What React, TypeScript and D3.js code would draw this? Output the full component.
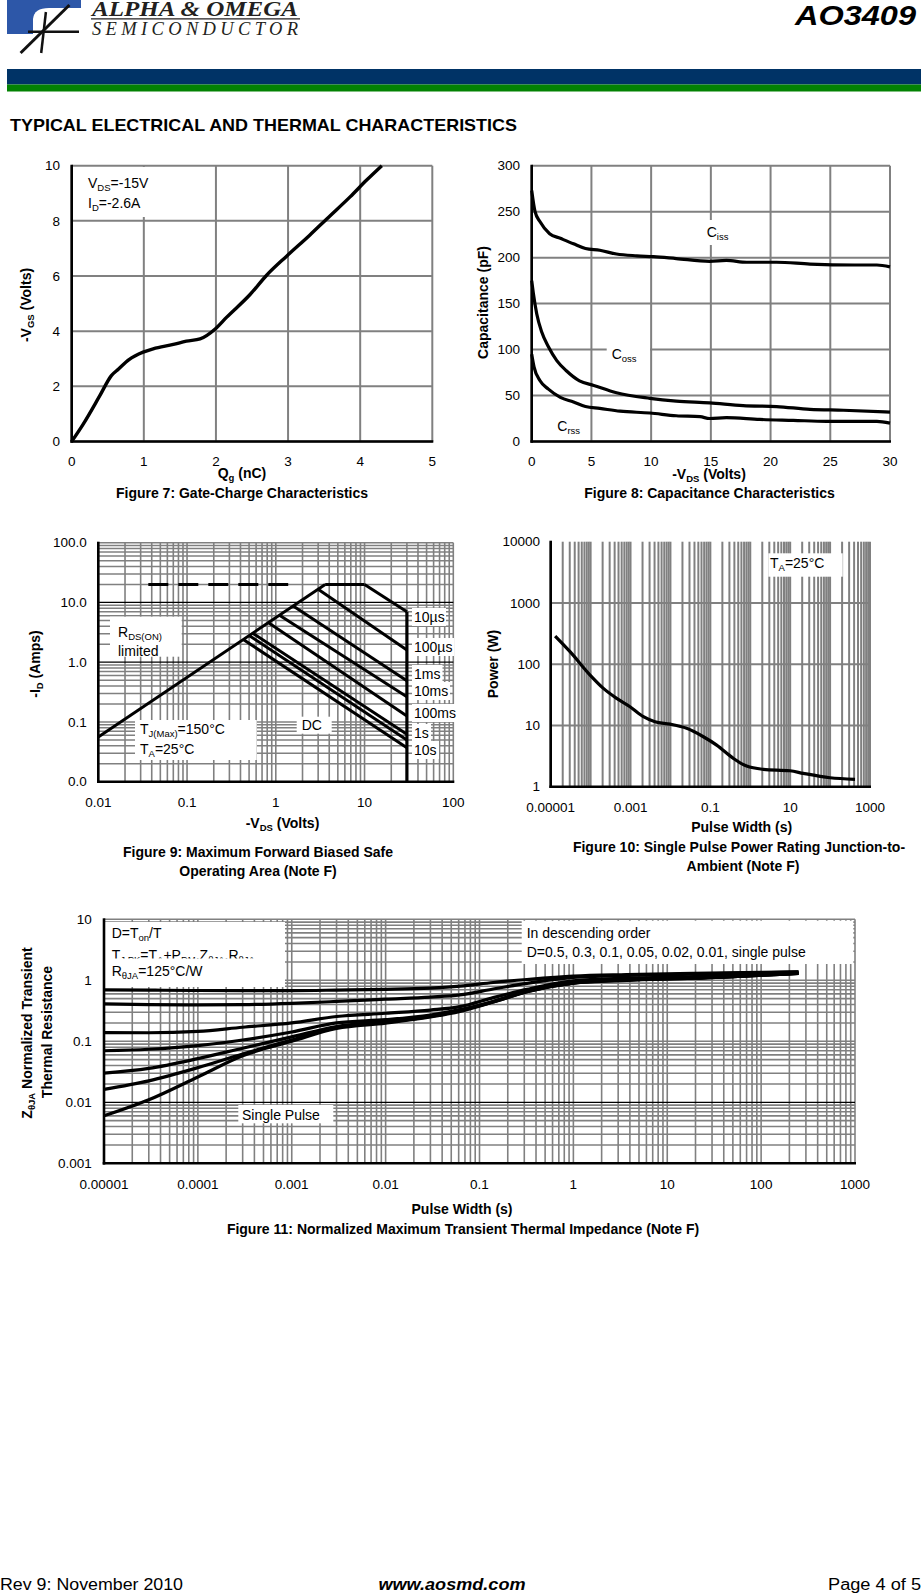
import React from 'react';
import * as d3 from 'd3';

const FONT = "'Liberation Sans', Arial, Helvetica, sans-serif";
const SERIF = "'Liberation Serif', 'Times New Roman', serif";
const GRID = '#808080';
const INK = '#000';

// ---------- Figure 7: gate charge ----------
const qgCharge = [0, 0.16, 0.39, 0.55, 0.65, 0.79, 0.99, 1.13, 1.41, 1.59, 1.78, 1.99, 2.15, 2.47, 2.7, 2.98, 3.3, 3.54, 3.86, 4.09, 4.3];
const qgVgs = [0, 0.63, 1.66, 2.39, 2.63, 2.96, 3.24, 3.36, 3.52, 3.64, 3.72, 4.08, 4.51, 5.32, 6.02, 6.72, 7.48, 8.08, 8.87, 9.48, 10.0];
const fig7XTicks = [0, 1, 2, 3, 4, 5];
const fig7YTicks = [0, 2, 4, 6, 8, 10];

// ---------- Figure 8: capacitance ----------
const cissV = [0, 0.28, 0.7, 1.5, 2.4, 3.5, 4.5, 5.7, 7.1, 8.8, 10.2, 12.1, 14.9, 16.3, 18, 20.5, 23.3, 27, 28.9, 30];
const cissC = [273, 250, 239, 226, 221, 215, 210, 208, 204, 202, 201, 199, 196, 197, 195, 195, 193, 192, 192, 190];
const cossV = [0, 0.14, 0.42, 0.84, 1.4, 2.1, 2.9, 4.0, 5.2, 7.1, 9.9, 12.1, 14.9, 17.7, 20.5, 23.3, 26.1, 30];
const cossC = [175, 161, 139, 119, 103, 88, 77, 66, 61, 53, 47, 44, 42, 39, 38, 35, 34, 32];
const crssV = [0, 0.2, 0.7, 1.4, 2.4, 3.5, 4.5, 5.7, 7.4, 9.9, 12.1, 14.1, 14.9, 16.3, 19.1, 21.9, 24.7, 28.9, 30];
const crssC = [95, 81, 66, 57, 48, 43, 38, 36, 33, 31, 28, 27, 25, 26, 24, 23, 22, 22, 20];
const fig8XTicks = [0, 5, 10, 15, 20, 25, 30];
const fig8YTicks = [0, 50, 100, 150, 200, 250, 300];

// ---------- Figure 9: safe operating area ----------
const soaRdsV = [0.01, 3.6];
const soaRdsI = [0.056, 20];
const soaFlatV = [3.6, 10];
const soaFlatI = [20, 20];
const soaDashV = [0.0366, 1.38];
const soaDashI = [20, 20];
const soaWallV = [30, 30];
const soaWallI = [7.0, 0.01];
const soaLabels = ['10µs', '100µs', '1ms', '10ms', '100ms', '1s', '10s'];
const soaStartV = [10, 3.0, 1.57, 1.1, 0.82, 0.55, 0.5];
const soaStartI = [20, 16.7, 8.7, 6.1, 4.6, 3.05, 2.8];
const soaEndV = [30, 30, 30, 30, 30, 30, 30];
const soaEndI = [7.0, 1.6, 0.49, 0.265, 0.126, 0.062, 0.05];
const soaDcV = [0.43, 30];
const soaDcI = [2.4, 0.037];
const fig9XTicks = [0.01, 0.1, 1, 10, 100];
const fig9XLabels = ['0.01', '0.1', '1', '10', '100'];
const fig9YTicks = [100, 10, 1, 0.1, 0.01];
const fig9YLabels = ['100.0', '10.0', '1.0', '0.1', '0.0'];

// ---------- Figure 10: single pulse power ----------
const spPulse = [1.29e-5, 3.05e-5, 9.7e-5, 2.09e-4, 4.5e-4, 9.7e-4, 2.1e-3, 4.1e-3, 9.8e-3, 0.0255, 0.0668, 0.144, 0.377, 0.81, 2.13, 9.9, 21.4, 99.6, 421];
const spPower = [288, 160, 66.5, 40.3, 27.7, 20.2, 13.9, 11.5, 10.5, 8.96, 6.54, 4.78, 2.9, 2.17, 1.92, 1.82, 1.65, 1.4, 1.32];
const fig10XTicks = [1e-5, 1e-3, 1e-1, 10, 1000];
const fig10XLabels = ['0.00001', '0.001', '0.1', '10', '1000'];
const fig10YTicks = [1, 10, 100, 1000, 10000];
const fig10YLabels = ['1', '10', '100', '1000', '10000'];

// ---------- Figure 11: transient thermal impedance ----------
const ztPulse = [1e-5, 3e-5, 1e-4, 3e-4, 1e-3, 3e-3, 0.01, 0.03, 0.062, 0.14, 0.32, 1, 3.7, 19, 250];
const zD05 = [0.695, 0.69, 0.68, 0.678, 0.678, 0.69, 0.71, 0.745, 0.8, 0.92, 1.03, 1.17, 1.24, 1.3, 1.38];
const zD03 = [0.41, 0.4, 0.395, 0.4, 0.42, 0.45, 0.49, 0.53, 0.575, 0.72, 0.89, 1.12, 1.2, 1.26, 1.37];
const zD01 = [0.139, 0.138, 0.145, 0.17, 0.2, 0.255, 0.288, 0.325, 0.37, 0.52, 0.71, 0.98, 1.08, 1.15, 1.33];
const zD005 = [0.07, 0.074, 0.085, 0.105, 0.142, 0.2, 0.226, 0.27, 0.33, 0.45, 0.66, 0.92, 1.03, 1.1, 1.31];
const zD002 = [0.03, 0.036, 0.052, 0.077, 0.118, 0.175, 0.212, 0.26, 0.32, 0.45, 0.66, 0.91, 1.02, 1.09, 1.3];
const zD001 = [0.0163, 0.0225, 0.037, 0.062, 0.105, 0.168, 0.205, 0.255, 0.318, 0.44, 0.65, 0.9, 1.01, 1.08, 1.3];
const zSingle = [0.006, 0.011, 0.026, 0.058, 0.1, 0.162, 0.198, 0.25, 0.31, 0.44, 0.65, 0.9, 1.0, 1.08, 1.3];
const fig11XTicks = [1e-5, 1e-4, 1e-3, 1e-2, 1e-1, 1, 10, 100, 1000];
const fig11XLabels = ['0.00001', '0.0001', '0.001', '0.01', '0.1', '1', '10', '100', '1000'];
const fig11YTicks = [0.001, 0.01, 0.1, 1, 10];
const fig11YLabels = ['0.001', '0.01', '0.1', '1', '10'];

// ---------- helpers ----------
function logGrid(lo: number, hi: number): number[] {
  const out: number[] = [];
  const e0 = Math.floor(Math.log10(lo) + 1e-9);
  const e1 = Math.ceil(Math.log10(hi) - 1e-9);
  for (let e = e0; e <= e1; e++) {
    for (let k = 1; k <= 9; k++) {
      const v = k * Math.pow(10, e);
      if (v >= lo * 0.9999 && v <= hi * 1.0001) out.push(v);
    }
  }
  return out;
}

function pathOf(xs: number[], ys: number[], sx: any, sy: any, curve: any = d3.curveLinear): string {
  return d3.line<number>().x((_, i) => sx(xs[i])).y((_, i) => sy(ys[i])).curve(curve)(xs) || '';
}

const TICK = 13.5;
const TITLE = 14;
const ANNO = 14;
const SUB = 9.5;

function XTickLabels({ ticks, labels, sx, y }: any) {
  return (
    <g fontSize={TICK} textAnchor="middle">
      {ticks.map((t: number, i: number) => (
        <text key={i} x={sx(t)} y={y} dy="0.35em">{labels ? labels[i] : String(t)}</text>
      ))}
    </g>
  );
}
function YTickLabels({ ticks, labels, sy, x }: any) {
  return (
    <g fontSize={TICK} textAnchor="end">
      {ticks.map((t: number, i: number) => (
        <text key={i} x={x} y={sy(t)} dy="0.35em">{labels ? labels[i] : String(t)}</text>
      ))}
    </g>
  );
}

// ---------- Header ----------
function Header() {
  return (
    <g>
      <rect x={7} y={0} width={74} height={34} fill="#2d57a8" />
      <path d="M33,34 L33,19 Q34,8 49,8 L81,8 L81,34 Z" fill="#fff" />
      <line x1={20.6} y1={53} x2={69.4} y2={5} stroke="#111" strokeWidth={3} />
      <line x1={45.9} y1={12} x2={41.2} y2={53} stroke="#111" strokeWidth={2.5} />
      <line x1={28} y1={31.7} x2={79} y2={31.7} stroke="#111" strokeWidth={2.4} />
      <text x={92} y={16} fontFamily={SERIF} fontWeight="bold" fontStyle="italic" fontSize={21} textLength={206} lengthAdjust="spacingAndGlyphs" fill="#231f20">{'ALPHA & OMEGA'}</text>
      <line x1={91} x2={300} y1={18.8} y2={18.8} stroke="#231f20" strokeWidth={1.2} />
      <text x={92} y={34.5} fontFamily={SERIF} fontStyle="italic" fontSize={18.5} textLength={206} lengthAdjust="spacing" fill="#231f20">SEMICONDUCTOR</text>
      <text x={916} y={24.5} textAnchor="end" fontWeight="bold" fontStyle="italic" fontSize={28} textLength={121} lengthAdjust="spacingAndGlyphs">AO3409</text>
      <rect x={7} y={69} width={914} height={15.5} fill="#003366" />
      <rect x={7} y={84.5} width={914} height={7} fill="#038203" />
      <text x={10} y={131} fontWeight="bold" fontSize={17} textLength={507} lengthAdjust="spacingAndGlyphs">TYPICAL ELECTRICAL AND THERMAL CHARACTERISTICS</text>
    </g>
  );
}

// ---------- Figure 7 ----------
function Fig7() {
  const sx = d3.scaleLinear().domain([0, 5]).range([71.7, 432.3]);
  const sy = d3.scaleLinear().domain([0, 10]).range([441.5, 165.7]);
  return (
    <g>
      {fig7XTicks.map((t) => <line key={'x' + t} x1={sx(t)} x2={sx(t)} y1={sy(0)} y2={sy(10)} stroke={GRID} strokeWidth={2} />)}
      {fig7YTicks.map((t) => <line key={'y' + t} x1={sx(0)} x2={sx(5)} y1={sy(t)} y2={sy(t)} stroke={GRID} strokeWidth={2} />)}
      <rect x={80} y={167} width={66} height={50} fill="#fff" />
      <line x1={sx(0)} x2={sx(0)} y1={sy(10) - 1} y2={sy(0) + 1.3} stroke={INK} strokeWidth={2.6} />
      <line x1={sx(0) - 1.3} x2={sx(5) + 1} y1={sy(0)} y2={sy(0)} stroke={INK} strokeWidth={2.6} />
      <path d={pathOf(qgCharge, qgVgs, sx, sy, d3.curveMonotoneX)} fill="none" stroke={INK} strokeWidth={3.4} strokeLinejoin="round" />
      <text x={88} y={183} dy="0.35em" fontSize={ANNO}>V<tspan fontSize={SUB} dy={3}>DS</tspan><tspan dy={-3}>=-15V</tspan></text>
      <text x={88} y={203} dy="0.35em" fontSize={ANNO}>I<tspan fontSize={SUB} dy={3}>D</tspan><tspan dy={-3}>=-2.6A</tspan></text>
      <YTickLabels ticks={fig7YTicks} sy={sy} x={60} />
      <XTickLabels ticks={fig7XTicks} sx={sx} y={461.7} />
      <text x={242} y={473.5} dy="0.35em" textAnchor="middle" fontWeight="bold" fontSize={TITLE}>Q<tspan fontSize={SUB} dy={3}>g</tspan><tspan dy={-3}> (nC)</tspan></text>
      <text transform="translate(26,305) rotate(-90)" dy="0.35em" textAnchor="middle" fontWeight="bold" fontSize={TITLE}>-V<tspan fontSize={SUB} dy={3}>GS</tspan><tspan dy={-3}> (Volts)</tspan></text>
      <text x={242} y={493.5} dy="0.35em" textAnchor="middle" fontWeight="bold" fontSize={TITLE}>Figure 7: Gate-Charge Characteristics</text>
    </g>
  );
}

// ---------- Figure 8 ----------
function Fig8() {
  const sx = d3.scaleLinear().domain([0, 30]).range([531.7, 890]);
  const sy = d3.scaleLinear().domain([0, 300]).range([441.5, 165.7]);
  return (
    <g>
      {fig8XTicks.map((t) => <line key={'x' + t} x1={sx(t)} x2={sx(t)} y1={sy(0)} y2={sy(300)} stroke={GRID} strokeWidth={2} />)}
      {fig8YTicks.map((t) => <line key={'y' + t} x1={sx(0)} x2={sx(30)} y1={sy(t)} y2={sy(t)} stroke={GRID} strokeWidth={2} />)}
      <rect x={703} y={220} width={28} height={25} fill="#fff" />
      <rect x={606.7} y={345} width={43.3} height={18.3} fill="#fff" />
      <rect x={555} y={416.7} width={33} height={20} fill="#fff" />
      <line x1={sx(0)} x2={sx(0)} y1={sy(300) - 1} y2={sy(0) + 1.3} stroke={INK} strokeWidth={2.6} />
      <line x1={sx(0) - 1.3} x2={sx(30) + 1} y1={sy(0)} y2={sy(0)} stroke={INK} strokeWidth={2.6} />
      <path d={pathOf(cissV, cissC, sx, sy, d3.curveMonotoneX)} fill="none" stroke={INK} strokeWidth={3.2} strokeLinejoin="round" />
      <path d={pathOf(cossV, cossC, sx, sy, d3.curveMonotoneX)} fill="none" stroke={INK} strokeWidth={3.2} strokeLinejoin="round" />
      <path d={pathOf(crssV, crssC, sx, sy, d3.curveMonotoneX)} fill="none" stroke={INK} strokeWidth={3.2} strokeLinejoin="round" />
      <text x={706.7} y={231.7} dy="0.35em" fontSize={ANNO}>C<tspan fontSize={SUB} dy={3}>iss</tspan></text>
      <text x={611.7} y={354} dy="0.35em" fontSize={ANNO}>C<tspan fontSize={SUB} dy={3}>oss</tspan></text>
      <text x={557.3} y={426} dy="0.35em" fontSize={ANNO}>C<tspan fontSize={SUB} dy={3}>rss</tspan></text>
      <YTickLabels ticks={fig8YTicks} sy={sy} x={520} />
      <XTickLabels ticks={fig8XTicks} sx={sx} y={461.7} />
      <text x={709} y={474} dy="0.35em" textAnchor="middle" fontWeight="bold" fontSize={TITLE}>-V<tspan fontSize={SUB} dy={3}>DS</tspan><tspan dy={-3}> (Volts)</tspan></text>
      <text transform="translate(483.3,302.5) rotate(-90)" dy="0.35em" textAnchor="middle" fontWeight="bold" fontSize={TITLE}>Capacitance (pF)</text>
      <text x={709.5} y={493.5} dy="0.35em" textAnchor="middle" fontWeight="bold" fontSize={TITLE}>Figure 8: Capacitance Characteristics</text>
    </g>
  );
}

// ---------- Figure 9 ----------
const soaLabelPos = [617, 647, 674, 691, 713, 733, 750];
const soaLabelW = [30, 38, 26.5, 34, 42, 15, 23];
function Fig9() {
  const sx = d3.scaleLog().domain([0.01, 100]).range([98.3, 453.3]);
  const sy = d3.scaleLog().domain([0.01, 100]).range([781.7, 542.7]);
  const gx = logGrid(0.01, 100);
  const gy = logGrid(0.01, 100);
  return (
    <g>
      {gx.map((v, i) => <line key={'x' + i} x1={sx(v)} x2={sx(v)} y1={sy(0.01)} y2={sy(100)} stroke={GRID} strokeWidth={1.6} />)}
      {gy.map((v, i) => <line key={'y' + i} x1={sx(0.01)} x2={sx(100)} y1={sy(v)} y2={sy(v)} stroke={(v === 10 || v === 1) ? INK : GRID} strokeWidth={(v === 10 || v === 1) ? 1.2 : 1.6} />)}
      {soaLabels.map((l, i) => <rect key={'b' + i} x={412} y={soaLabelPos[i] - 9} width={soaLabelW[i] + 4} height={18} fill="#fff" />)}
      <rect x={110} y={616.7} width={71.7} height={40} fill="#fff" />
      <rect x={135} y={720} width={121.7} height={40} fill="#fff" />
      <rect x={296.7} y={716.7} width={35} height={17} fill="#fff" />
      <line x1={sx(0.01)} x2={sx(0.01)} y1={sy(100) - 1} y2={sy(0.01) + 1.3} stroke={INK} strokeWidth={2.6} />
      <line x1={sx(0.01) - 1.3} x2={sx(100) + 1} y1={sy(0.01)} y2={sy(0.01)} stroke={INK} strokeWidth={2.6} />
      <path d={pathOf(soaDashV, soaDashI, sx, sy)} fill="none" stroke={INK} strokeWidth={3} strokeDasharray="20 10" />
      <path d={pathOf(soaRdsV, soaRdsI, sx, sy)} fill="none" stroke={INK} strokeWidth={3} />
      <path d={pathOf(soaFlatV, soaFlatI, sx, sy)} fill="none" stroke={INK} strokeWidth={3} />
      <path d={pathOf(soaWallV, soaWallI, sx, sy)} fill="none" stroke={INK} strokeWidth={3.2} />
      {soaLabels.map((l, i) => (
        <path key={'l' + i} d={pathOf([soaStartV[i], soaEndV[i]], [soaStartI[i], soaEndI[i]], sx, sy)} fill="none" stroke={INK} strokeWidth={3} />
      ))}
      <path d={pathOf(soaDcV, soaDcI, sx, sy)} fill="none" stroke={INK} strokeWidth={3} />
      {soaLabels.map((l, i) => (
        <text key={'t' + i} x={414} y={soaLabelPos[i]} dy="0.35em" fontSize={ANNO}>{l}</text>
      ))}
      <text x={301.7} y={725} dy="0.35em" fontSize={ANNO}>DC</text>
      <text x={118} y={631.7} dy="0.35em" fontSize={ANNO}>R<tspan fontSize={SUB} dy={3}>DS(ON)</tspan></text>
      <text x={118} y={650.7} dy="0.35em" fontSize={ANNO}>limited</text>
      <text x={140} y={729.3} dy="0.35em" fontSize={ANNO}>T<tspan fontSize={SUB} dy={3}>J(Max)</tspan><tspan dy={-3}>=150°C</tspan></text>
      <text x={140} y={749.3} dy="0.35em" fontSize={ANNO}>T<tspan fontSize={SUB} dy={3}>A</tspan><tspan dy={-3}>=25°C</tspan></text>
      <YTickLabels ticks={fig9YTicks} labels={fig9YLabels} sy={sy} x={86.7} />
      <XTickLabels ticks={fig9XTicks} labels={fig9XLabels} sx={sx} y={802.7} />
      <text x={282.5} y={823.3} dy="0.35em" textAnchor="middle" fontWeight="bold" fontSize={TITLE}>-V<tspan fontSize={SUB} dy={3}>DS</tspan><tspan dy={-3}> (Volts)</tspan></text>
      <text transform="translate(35,664) rotate(-90)" dy="0.35em" textAnchor="middle" fontWeight="bold" fontSize={TITLE}>-I<tspan fontSize={SUB} dy={3}>D</tspan><tspan dy={-3}> (Amps)</tspan></text>
      <text x={258} y={851.7} dy="0.35em" textAnchor="middle" fontWeight="bold" fontSize={TITLE}>Figure 9: Maximum Forward Biased Safe</text>
      <text x={258} y={871} dy="0.35em" textAnchor="middle" fontWeight="bold" fontSize={TITLE}>Operating Area (Note F)</text>
    </g>
  );
}

// ---------- Figure 10 ----------
function Fig10() {
  const sx = d3.scaleLog().domain([1e-5, 1000]).range([550.7, 870]);
  const sy = d3.scaleLog().domain([1, 10000]).range([786.7, 541.7]);
  const gx = logGrid(1e-5, 1000);
  return (
    <g>
      {gx.map((v, i) => <line key={'x' + i} x1={sx(v)} x2={sx(v)} y1={sy(1)} y2={sy(10000)} stroke={GRID} strokeWidth={2} />)}
      {[10, 100, 1000].map((v) => <line key={'y' + v} x1={sx(1e-5)} x2={sx(1000)} y1={sy(v)} y2={sy(v)} stroke={GRID} strokeWidth={2} />)}
      <rect x={768.3} y={553.3} width={74.4} height={23.4} fill="#fff" />
      <line x1={sx(1e-5)} x2={sx(1e-5)} y1={sy(10000) - 1} y2={sy(1) + 1.3} stroke={INK} strokeWidth={2.6} />
      <line x1={sx(1e-5) - 1.3} x2={sx(1000) + 1} y1={sy(1)} y2={sy(1)} stroke={INK} strokeWidth={2.6} />
      <path d={pathOf(spPulse, spPower, sx, sy, d3.curveMonotoneX)} fill="none" stroke={INK} strokeWidth={3.2} strokeLinejoin="round" />
      <text x={770} y={563.3} dy="0.35em" fontSize={ANNO}>T<tspan fontSize={SUB} dy={3}>A</tspan><tspan dy={-3}>=25°C</tspan></text>
      <YTickLabels ticks={fig10YTicks} labels={fig10YLabels} sy={sy} x={540} />
      <XTickLabels ticks={fig10XTicks} labels={fig10XLabels} sx={sx} y={807.3} />
      <text x={741.7} y={827.3} dy="0.35em" textAnchor="middle" fontWeight="bold" fontSize={TITLE}>Pulse Width (s)</text>
      <text transform="translate(492.7,664) rotate(-90)" dy="0.35em" textAnchor="middle" fontWeight="bold" fontSize={TITLE}>Power (W)</text>
      <text x={739} y={846.7} dy="0.35em" textAnchor="middle" fontWeight="bold" fontSize={TITLE}>Figure 10: Single Pulse Power Rating Junction-to-</text>
      <text x={743} y={866.5} dy="0.35em" textAnchor="middle" fontWeight="bold" fontSize={TITLE}>Ambient (Note F)</text>
    </g>
  );
}

// ---------- Figure 11 ----------
function Fig11() {
  const sx = d3.scaleLog().domain([1e-5, 1000]).range([104, 855]);
  const sy = d3.scaleLog().domain([0.001, 10]).range([1163.3, 919.3]);
  const gx = logGrid(1e-5, 1000);
  const gy = logGrid(0.001, 10);
  const series = [zD05, zD03, zD01, zD005, zD002, zD001, zSingle];
  return (
    <g>
      <defs>
        <clipPath id="clipTj"><rect x={105} y={940} width={180} height={18.5} /></clipPath>
      </defs>
      {gx.map((v, i) => <line key={'x' + i} x1={sx(v)} x2={sx(v)} y1={sy(0.001)} y2={sy(10)} stroke={GRID} strokeWidth={1.6} />)}
      {gy.map((v, i) => <line key={'y' + i} x1={sx(1e-5)} x2={sx(1000)} y1={sy(v)} y2={sy(v)} stroke={Math.abs(v - 0.01) < 1e-9 ? INK : GRID} strokeWidth={Math.abs(v - 0.01) < 1e-9 ? 1.2 : 1.6} />)}
      <rect x={105} y={922} width={180} height={65} fill="#fff" />
      <rect x={521.7} y={920.7} width={331.6} height={43.3} fill="#fff" />
      <rect x={238.3} y={1105} width={95} height={18.3} fill="#fff" />
      <line x1={sx(1e-5)} x2={sx(1e-5)} y1={sy(10) - 1} y2={sy(0.001) + 1.3} stroke={INK} strokeWidth={2.6} />
      <line x1={sx(1e-5) - 1.3} x2={sx(1000) + 1} y1={sy(0.001)} y2={sy(0.001)} stroke={INK} strokeWidth={2.6} />
      {series.map((s, i) => (
        <path key={'s' + i} d={pathOf(ztPulse, s, sx, sy, d3.curveMonotoneX)} fill="none" stroke={INK} strokeWidth={3.2} strokeLinejoin="round" />
      ))}
      <text x={111.7} y={933.3} dy="0.35em" fontSize={ANNO}>D=T<tspan fontSize={SUB} dy={3}>on</tspan><tspan dy={-3}>/T</tspan></text>
      <g clipPath="url(#clipTj)">
        <text x={111.7} y={955} dy="0.35em" fontSize={ANNO}>T<tspan fontSize={SUB} dy={3}>J,PK</tspan><tspan dy={-3}>=T</tspan><tspan fontSize={SUB} dy={3}>A</tspan><tspan dy={-3}>+P</tspan><tspan fontSize={SUB} dy={3}>DM</tspan><tspan dy={-3}>.Z</tspan><tspan fontSize={SUB} dy={3}>θJA</tspan><tspan dy={-3}>.R</tspan><tspan fontSize={SUB} dy={3}>θJA</tspan></text>
      </g>
      <text x={111.7} y={970.7} dy="0.35em" fontSize={ANNO}>R<tspan fontSize={SUB} dy={3}>θJA</tspan><tspan dy={-3}>=125°C/W</tspan></text>
      <text x={526.7} y={933.3} dy="0.35em" fontSize={ANNO}>In descending order</text>
      <text x={526.7} y={951.7} dy="0.35em" fontSize={ANNO}>D=0.5, 0.3, 0.1, 0.05, 0.02, 0.01, single pulse</text>
      <text x={242} y={1115.3} dy="0.35em" fontSize={ANNO}>Single Pulse</text>
      <YTickLabels ticks={fig11YTicks} labels={fig11YLabels} sy={sy} x={91.7} />
      <XTickLabels ticks={fig11XTicks} labels={fig11XLabels} sx={sx} y={1184} />
      <text x={462} y={1209.3} dy="0.35em" textAnchor="middle" fontWeight="bold" fontSize={TITLE}>Pulse Width (s)</text>
      <text transform="translate(26.7,1033) rotate(-90)" dy="0.35em" textAnchor="middle" fontWeight="bold" fontSize={TITLE}>Z<tspan fontSize={SUB} dy={3}>θJA</tspan><tspan dy={-3}> Normalized Transient</tspan></text>
      <text transform="translate(46.7,1032) rotate(-90)" dy="0.35em" textAnchor="middle" fontWeight="bold" fontSize={TITLE}>Thermal Resistance</text>
      <text x={463} y={1229.5} dy="0.35em" textAnchor="middle" fontWeight="bold" fontSize={TITLE}>Figure 11: Normalized Maximum Transient Thermal Impedance (Note F)</text>
    </g>
  );
}

// ---------- Footer ----------
function Footer() {
  return (
    <g fontSize={16}>
      <text x={0} y={1590} textLength={183} lengthAdjust="spacingAndGlyphs">Rev 9: November 2010</text>
      <text x={452} y={1590} textAnchor="middle" fontWeight="bold" fontStyle="italic" textLength={147} lengthAdjust="spacingAndGlyphs">www.aosmd.com</text>
      <text x={921} y={1590} textAnchor="end" textLength={93} lengthAdjust="spacingAndGlyphs">Page 4 of 5</text>
    </g>
  );
}

export default function App() {
  return (
    <svg width={923} height={1593} viewBox="0 0 923 1593" style={{ position: 'absolute', left: 0, top: 0, display: 'block' }} fontFamily={FONT}>
      <rect x={0} y={0} width={923} height={1593} fill="#fff" />
      <Header />
      <Fig7 />
      <Fig8 />
      <Fig9 />
      <Fig10 />
      <Fig11 />
      <Footer />
    </svg>
  );
}
